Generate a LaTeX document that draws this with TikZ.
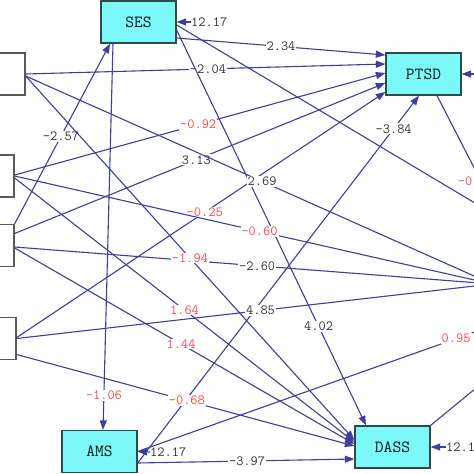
\documentclass[tikz,border=0pt]{standalone}
\usetikzlibrary{arrows.meta,calc}
\definecolor{pathblue}{RGB}{62,62,158}
\definecolor{boxcyan}{RGB}{125,248,248}
\definecolor{boxedge}{RGB}{45,75,75}
\definecolor{sigtext}{RGB}{50,50,50}
\definecolor{nsigred}{RGB}{250,72,72}
\begin{document}
\begin{tikzpicture}[x=1pt,y=-1pt,
  lat/.style={draw=boxedge,line width=1.3pt,fill=boxcyan,minimum width=75pt,minimum height=42pt,inner sep=0pt,text=black!80!teal,font=\ttfamily\fontsize{17}{17}\selectfont},
  obs/.style={draw=black!65,line width=1.3pt,fill=white,minimum width=75pt,minimum height=42pt,inner sep=0pt},
  coef/.style={draw=pathblue,line width=1.1pt,-{Triangle[length=9.5pt,width=7pt]}},
  sig/.style={fill=white,inner sep=1pt,text=sigtext,font=\ttfamily\fontsize{14}{14}\selectfont},
  nsig/.style={sig,text=nsigred}]
  \clip (0,0) rectangle (474,474);
  \fill[white] (0,0) rectangle (474,474);
  % boxes
  \node[lat] (SES) at (138.5,22) {SES};
  \node[lat] (PTSD) at (423.5,74) {PTSD};
  \node[lat] (AMS) at (99.5,451.5) {AMS};
  \node[lat] (DASS) at (392.5,447) {DASS};
  \node[obs] (X1) at (-12.5,74) {};
  \node[obs] (X2) at (-23.5,176) {};
  \node[obs] (X3) at (-23.5,245.5) {};
  \node[obs] (X4) at (-21.5,338.5) {};
  % ends outside the frame
  \coordinate (R1) at (500,218);
  \coordinate (R2) at (492,284);
  \coordinate (R3) at (520,316);
  \coordinate (R4) at (520,352);
  \coordinate (ePTSD) at (490,74);
  % into PTSD
  \draw[coef] ($(SES.east)+(0,16)$) -- node[sig,pos=.5] {2.34} ($(PTSD.west)+(0,-19)$);
  \draw[coef] (X1.east) -- node[sig,pos=.507] {-2.04} ($(PTSD.west)+(0,-10)$);
  \draw[coef] ($(X2.east)+(0,-1)$) -- node[nsig,pos=.495] {-0.92} ($(PTSD.west)+(0,-1)$);
  \draw[coef] ($(X3.east)+(0,-12)$) -- node[sig,pos=.49] {3.13} ($(PTSD.west)+(0,9)$);
  \draw[coef] ($(X4.east)+(0,-1)$) -- node[nsig,pos=.51] {-0.25} ($(PTSD.west)+(0,18)$);
  \draw[coef] ($(AMS.east)+(0,11.5)$) -- node[sig,pos=.91] {-3.84} ($(PTSD.south)+(-4.5,0)$);
  % SES
  \draw[coef] (X3.north east) -- node[sig,pos=.486] {-2.57} ($(SES.south)+(-28.5,0)$);
  \draw[coef] ($(SES.south)+(-25.5,0)$) -- node[nsig,pos=.91] {-1.06} ($(AMS.north)+(3.5,0)$);
  \draw[coef] ($(SES.east)+(0,8)$) -- node[sig,pos=.75] {4.02} ($(DASS.north)+(-26.5,0)$);
  \draw[coef] ($(SES.east)+(0,3)$) -- (R1);
  % to the right
  \draw[coef] ($(X1.east)+(0,2)$) -- node[sig,pos=.507] {2.69} (R2);
  \draw[coef] (X2.east) -- node[nsig,pos=.513] {-0.60} (R2);
  \draw[coef] ($(X3.east)+(0,1.5)$) -- node[sig,pos=.508] {-2.60} (R2);
  \draw[coef] (X4.east) -- node[sig,pos=.513] {4.85} (R2);
  \draw[coef] (AMS.east) -- node[nsig,pos=.833] {0.95} (R3);
  \draw[coef] ($(PTSD.south)+(13.5,0)$) -- node[nsig,pos=.70,xshift=-16pt] {-0} (R1);
  \draw[coef] (DASS.north east) -- (R4);
  % into DASS
  \draw[coef] ($(X1.east)+(0,2)$) -- node[nsig,pos=.5] {-1.94} ($(DASS.west)+(0,-7)$);
  \draw[coef] ($(X2.east)+(0,2)$) -- node[nsig,pos=.5] {1.64} ($(DASS.west)+(0,-5)$);
  \draw[coef] ($(X3.east)+(0,2.5)$) -- node[nsig,pos=.49] {1.44} ($(DASS.west)+(0,-3)$);
  \draw[coef] ($(X4.east)+(0,16)$) -- node[nsig,pos=.504] {-0.68} ($(DASS.west)+(0,-1)$);
  \draw[coef] ($(AMS.east)+(0,11.5)$) -- node[sig,pos=.505] {-3.97} ($(DASS.west)+(0,12)$);
  % error terms
  \node[sig,anchor=west,inner sep=0pt] (eSES) at (191,22) {12.17};
  \node[sig,anchor=west,inner sep=0pt] (eAMS) at (150,452) {12.17};
  \node[sig,anchor=west,inner sep=0pt] (eDASS) at (446,447) {12.1};
  \draw[coef] (eSES.west) -- (SES.east);
  \draw[coef] (eAMS.west) -- (AMS.east);
  \draw[coef] (eDASS.west) -- (DASS.east);
  \draw[coef] (ePTSD) -- (PTSD.east);
\end{tikzpicture}
\end{document}
